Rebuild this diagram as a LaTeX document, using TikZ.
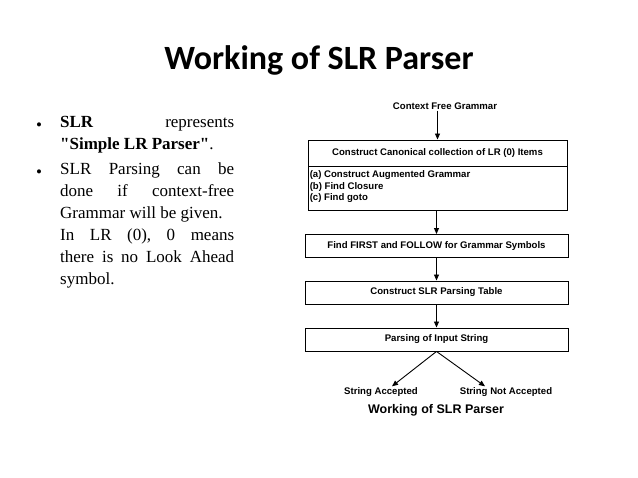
\documentclass[tikz,border=0pt]{standalone}
\usepackage{fontspec}
\setmainfont{Liberation Serif}
\setsansfont{Liberation Sans}
\newfontfamily\titlefont{Carlito}
\usetikzlibrary{arrows.meta}
\begin{document}
\begin{tikzpicture}[x=1pt,y=-1pt,
  box/.style={draw,line width=0.9pt,minimum height=23pt,inner sep=0pt,font=\sffamily\bfseries\fontsize{9.6}{11}\selectfont},
  lbl/.style={font=\sffamily\bfseries\fontsize{9.6}{11}\selectfont,inner sep=1pt},
  bul/.style={font=\fontsize{17}{20}\selectfont,inner sep=0pt},
  para/.style={anchor=north west,inner sep=0pt,text width=174pt,align=justify,font=\fontsize{17}{22}\selectfont},
  arr/.style={-{Triangle[length=6pt,width=5pt]},line width=0.9pt}]
\useasboundingbox (0,0) rectangle (638,478);
\node[font=\titlefont\bfseries\fontsize{34}{38}\selectfont] (title) at (319,60) {Working of SLR Parser};
\node[bul] (d1) at (39,127) {\textbullet};
\node[bul] (d2) at (39,174) {\textbullet};
\node[para] (p1) at (60,116) {\textbf{SLR}\hfill represents\\ \textbf{\textquotedbl Simple LR Parser\textquotedbl}.};
\node[para] (p2) at (60,163) {SLR\hfill Parsing\hfill can\hfill be\\ done\hfill if\hfill context-free\\ Grammar will be given.\\ In\hfill LR\hfill (0),\hfill 0\hfill means\\ there\hfill is\hfill no\hfill Look\hfill Ahead\\ symbol.};
\node[lbl] (cfg) at (445,106) {Context Free Grammar};
\node[box,minimum width=259pt,minimum height=26pt] (b1) at (437.5,153) {Construct Canonical collection of LR (0) Items};
\node[draw,line width=0.9pt,minimum width=259pt,minimum height=44pt,inner sep=0pt,anchor=north] (b2) at (b1.south) {};
\node[anchor=north west,align=left,font=\sffamily\bfseries\fontsize{9.6}{11.5}\selectfont,inner sep=1pt] (b2t) at ([xshift=1pt,yshift=-3pt]b2.north west) {(a) Construct Augmented Grammar\\(b) Find Closure\\(c) Find goto};
\node[box,minimum width=263pt] (b3) at (436.5,246) {Find FIRST and FOLLOW for Grammar Symbols};
\node[box,minimum width=263pt] (b4) at (436.5,292.5) {Construct SLR Parsing Table};
\node[box,minimum width=263pt] (b5) at (436.5,339.5) {Parsing of Input String};
\node[lbl] (acc) at (381,392) {String Accepted};
\node[lbl] (nacc) at (506,392) {String Not Accepted};
\node[font=\sffamily\bfseries\fontsize{12.5}{14}\selectfont] (cap) at (436,410) {Working of SLR Parser};
\draw[arr] (cfg.south -| b1.north) -- (b1.north);
\draw[arr] (b2.south -| b3.north) -- (b3.north);
\draw[arr] (b3) -- (b4);
\draw[arr] (b4) -- (b5);
\draw[arr] (b5.south) -- ([xshift=11pt]acc.north);
\draw[arr] (b5.south) -- ([xshift=-21pt]nacc.north);
\end{tikzpicture}
\end{document}
